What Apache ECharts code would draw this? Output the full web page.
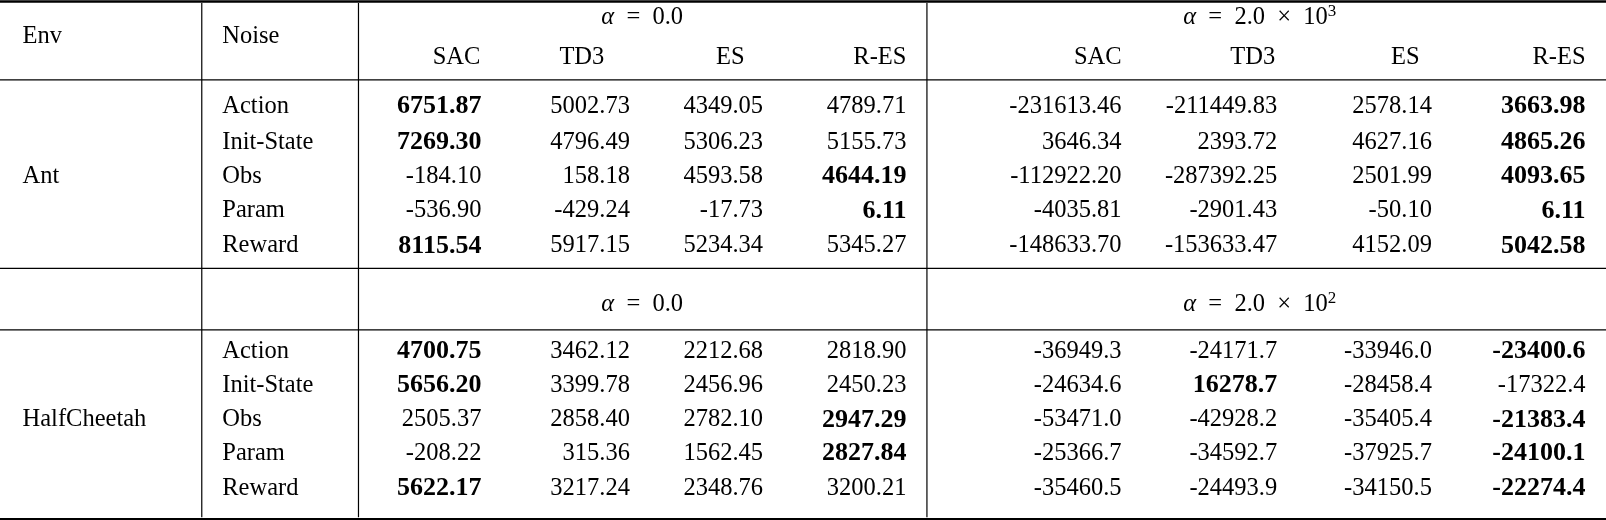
<!DOCTYPE html>
<html><head><meta charset="utf-8">
<script src="https://cdn.jsdelivr.net/npm/echarts@6/dist/echarts.min.js"></script>
<style>html,body{margin:0;background:#fff}#c{width:1606px;height:520px}</style>
</head><body><div id="c"></div>
<script>
const envs = ['Ant', 'HalfCheetah'];
const noises = ['Action', 'Init-State', 'Obs', 'Param', 'Reward'];
const methods = ['SAC', 'TD3', 'ES', 'R-ES'];
const alphaAnt = ['0.0', '2.0', '3'];
const alphaHC = ['0.0', '2.0', '2'];
const antVals = [
  ['6751.87','5002.73','4349.05','4789.71','-231613.46','-211449.83','2578.14','3663.98'],
  ['7269.30','4796.49','5306.23','5155.73','3646.34','2393.72','4627.16','4865.26'],
  ['-184.10','158.18','4593.58','4644.19','-112922.20','-287392.25','2501.99','4093.65'],
  ['-536.90','-429.24','-17.73','6.11','-4035.81','-2901.43','-50.10','6.11'],
  ['8115.54','5917.15','5234.34','5345.27','-148633.70','-153633.47','4152.09','5042.58']
];
const antBold = [[0,7],[0,7],[3,7],[3,7],[0,7]];
const hcVals = [
  ['4700.75','3462.12','2212.68','2818.90','-36949.3','-24171.7','-33946.0','-23400.6'],
  ['5656.20','3399.78','2456.96','2450.23','-24634.6','16278.7','-28458.4','-17322.4'],
  ['2505.37','2858.40','2782.10','2947.29','-53471.0','-42928.2','-35405.4','-21383.4'],
  ['-208.22','315.36','1562.45','2827.84','-25366.7','-34592.7','-37925.7','-24100.1'],
  ['5622.17','3217.24','2348.76','3200.21','-35460.5','-24493.9','-34150.5','-22274.4']
];
const hcBold = [[0,7],[0,5],[3,7],[3,7],[0,7]];

// layout (positions in a 1568-wide design space, scaled to the canvas)
const K = 1606/1568;
const colRight = [470,615,745,885,1095,1247,1398,1548];
const headRight = [469,590,727,885,1095,1245,1386,1548];
const antRows = [104,139,172,206,240];
const hcRows = [343,376,410,443,477];
const F = '"Liberation Serif","DejaVu Serif",serif';
const FS = 24.5;

const items = [];
function add(x,y,t,align,bold){items.push({value:[x,y],t,align,bold});}
add(22,36,'Env','left'); add(217,36,'Noise','left');
methods.forEach((m,i)=>{add(headRight[i],56,m,'right');add(headRight[i+4],56,m,'right');});
function block(vals,bold,rows,env){
  add(22,rows[2],env,'left');
  vals.forEach((r,ri)=>{
    add(217,rows[ri],noises[ri],'left');
    r.forEach((v,ci)=>add(colRight[ci],rows[ri],v,'right',bold[ri].includes(ci)));
  });
}
block(antVals,antBold,antRows,envs[0]);
block(hcVals,hcBold,hcRows,envs[1]);

function alphaText(a,pow){
  return pow===null? '{i|α}  =  '+a : '{i|α}  =  '+a+'  ×  10{s|'+pow+'}';
}
const alphas=[[627,17,alphaAnt[0],null],[1230,17,alphaAnt[1],alphaAnt[2]],[627,297,alphaHC[0],null],[1230,297,alphaHC[1],alphaHC[2]]];
alphas.forEach(a=>items.push({value:[a[0],a[1]],t:alphaText(a[2],a[3]),align:'center',rich:true}));

const chart = echarts.init(document.getElementById('c'));
const L=(x1,y1,x2,y2,w)=>({type:'line',shape:{x1:x1*K,y1:y1*K,x2:x2*K,y2:y2*K},style:{stroke:'#000',lineWidth:w}});
chart.setOption({
  animation:false,
  grid:{left:0,right:0,top:0,bottom:0},
  xAxis:{type:'value',min:0,max:1568,show:false},
  yAxis:{type:'value',min:0,max:520/K,inverse:true,show:false},
  graphic:[
    L(0,1.5,1568,1.5,2.5), L(0,78,1568,78,1.2), L(0,262,1568,262,1.2), L(0,322,1568,322,1.2), L(0,507,1568,507,2.5),
    L(197,3,197,505,1.2), L(350,3,350,505,1.2), L(905,3,905,505,1.2)
  ],
  series:[{
    type:'custom', data:items,
    renderItem:(p,api)=>{
      const d=items[p.dataIndex]; const c=api.coord(d.value);
      const style={text:d.t,x:c[0],y:c[1],textAlign:d.align,textVerticalAlign:'middle',
        font:(d.bold?'bold ':'')+(d.bold?26:FS)+'px '+F,fill:'#000'};
      if(d.rich){style.rich={i:{fontStyle:'italic',fontFamily:F,fontSize:FS},s:{fontFamily:F,fontSize:17,verticalAlign:'top',padding:[0,0,12,0]}};
        style.fontFamily=F;style.fontSize=FS;delete style.font;}
      return {type:'text',style};
    }
  }]
});
</script></body></html>
